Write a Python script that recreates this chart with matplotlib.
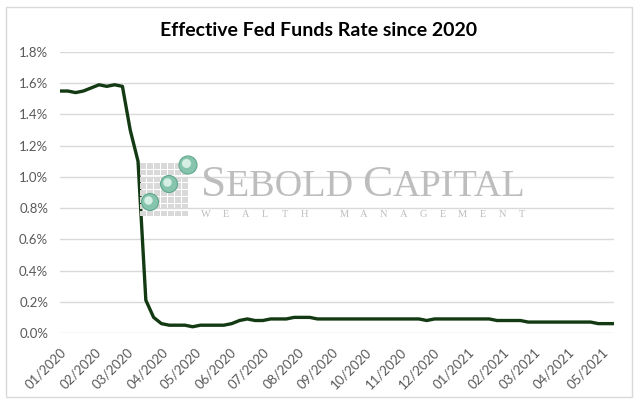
import matplotlib
matplotlib.use("Agg")
import matplotlib.pyplot as plt
from matplotlib.patches import Rectangle, Ellipse
import pandas as pd

# ---- data (weekly effective fed funds rate, %) ----
start_date = "2020-01-01"
n_weeks = 72
rates = [
    1.55, 1.55, 1.54, 1.55, 1.57, 1.59, 1.58, 1.59, 1.58, 1.30,
    1.10, 0.21, 0.10, 0.06, 0.05, 0.05, 0.05, 0.04, 0.05, 0.05,
    0.05, 0.05, 0.06, 0.08, 0.09, 0.08, 0.08, 0.09, 0.09, 0.09,
    0.10, 0.10, 0.10, 0.09, 0.09, 0.09, 0.09, 0.09, 0.09, 0.09,
    0.09, 0.09, 0.09, 0.09, 0.09, 0.09, 0.09, 0.08, 0.09, 0.09,
    0.09, 0.09, 0.09, 0.09, 0.09, 0.09, 0.08, 0.08, 0.08, 0.08,
    0.07, 0.07, 0.07, 0.07, 0.07, 0.07, 0.07, 0.07, 0.07, 0.06,
    0.06, 0.06,
]
title = "Effective Fed Funds Rate since 2020"
y_ticks = [0.0, 0.2, 0.4, 0.6, 0.8, 1.0, 1.2, 1.4, 1.6, 1.8]
x_tick_dates = pd.date_range("2020-01-01", "2021-05-01", freq="MS")
logo_main = [("S", 1.0), ("EBOLD ", 0.84), ("C", 1.0), ("APITAL", 0.84)]
logo_sub = "WEALTH MANAGEMENT"

dates = pd.date_range(start_date, periods=n_weeks, freq="7D")

W, H = 638, 404
fig = plt.figure(figsize=(W / 100, H / 100), dpi=100)
fig.patch.set_facecolor("white")

def fx(px):
    return px / W

def fy(py):
    return 1 - py / H

# outer border
fig.add_artist(Rectangle((fx(6), fy(397)), 626 / W, 390 / H, transform=fig.transFigure,
                         fill=False, edgecolor="#d9d9d9", lw=1.0))

ax = fig.add_axes([60 / W, 71 / H, 554 / W, 281 / H])
ax.set_facecolor("none")

font = "Lato"
ax.set_ylim(0, 1.8)
ax.set_xlim(dates[0], dates[-1])
ax.set_yticks(y_ticks)
ax.set_yticklabels([f"{v:.1f}%" for v in y_ticks], fontsize=9.5, color="#595959", family=font)
ax.set_xticks(x_tick_dates)
ax.set_xticklabels([d.strftime("%m/%Y") for d in x_tick_dates], rotation=45, ha="right",
                   rotation_mode="anchor", fontsize=9.5, color="#595959", family=font)
ax.tick_params(axis="both", length=0)
ax.tick_params(axis="y", pad=8.5)
ax.tick_params(axis="x", pad=9)
for s in ax.spines.values():
    s.set_visible(False)
ax.grid(axis="y", color="#d9d9d9", lw=1.0)
ax.set_axisbelow(True)

# ---- watermark logo ----
logo_gray = "#bdbdbd"
for i in range(7):
    for j in range(8):
        x0 = 140 + i * 7.0
        y0 = 163 + j * 6.8
        fig.add_artist(Rectangle((fx(x0), fy(y0 + 5.5)), 5.5 / W, 5.5 / H,
                                 transform=fig.transFigure, facecolor="#d9d9d9",
                                 edgecolor="none", zorder=1))
for cx, cy, r in [(150, 202, 8.5), (169, 184, 8.5), (188, 165, 9)]:
    fig.add_artist(Ellipse((fx(cx), fy(cy)), 2 * r / W, 2 * r / H,
                           transform=fig.transFigure, facecolor="#86c4ad",
                           edgecolor="#5fa88e", lw=0.8, zorder=2))
    fig.add_artist(Ellipse((fx(cx - 1.5), fy(cy - 1.5)), 1.0 * r / W, 1.0 * r / H,
                           transform=fig.transFigure, facecolor="#d6efe5",
                           edgecolor="none", zorder=3))

renderer = fig.canvas.get_renderer()
base_size = 34
# measure total width, then scale to fit 200..525
widths = []
for txt, rel in logo_main:
    t = fig.text(0, 0, txt, fontsize=base_size * rel, family="Liberation Serif")
    widths.append(t.get_window_extent(renderer).width)
    t.remove()
scale = (525 - 201) / sum(widths)
xpos = 201
for (txt, rel), w in zip(logo_main, widths):
    fig.text(fx(xpos), fy(196), txt, fontsize=base_size * rel * scale, family="Liberation Serif",
             color=logo_gray, va="baseline", ha="left", zorder=1)
    xpos += w * scale

chars = list(logo_sub)
step = (522 - 206) / (len(chars) - 1)
for k, ch in enumerate(chars):
    if ch == " ":
        continue
    fig.text(fx(206 + k * step), fy(217), ch, fontsize=7.5, family="Liberation Serif",
             color=logo_gray, ha="center", va="baseline")

ax.plot(dates, rates, color="#133a12", lw=2.4, solid_joinstyle="round", zorder=5)

fig.text(fx(319), fy(36), title, fontsize=14, fontweight="bold", family=font,
         ha="center", va="baseline", color="black")

fig.savefig("out.png", dpi=100)
